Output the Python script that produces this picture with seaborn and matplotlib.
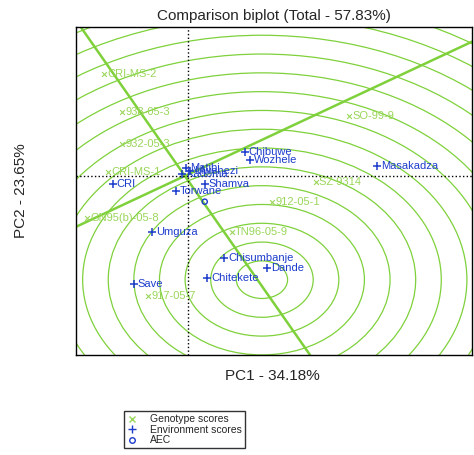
import matplotlib
matplotlib.use("Agg")
import matplotlib.pyplot as plt
import seaborn as sns
import numpy as np
from matplotlib.patches import Ellipse
from matplotlib.lines import Line2D

sns.set_style("white")
plt.rcParams['font.family'] = ['Liberation Sans', 'DejaVu Sans']

gen_names = ["CRI-MS-2", "938-05-3", "932-05-3", "CRI-MS-1", "SO-99-9", "SZ 9314",
             "912-05-1", "GN95(b)-05-8", "TN96-05-9", "917-05-7"]
gen_x = [-2.1, -1.65, -1.65, -2.0, 4.02, 3.2, 2.1, -2.52, 1.1, -1.0]
gen_y = [2.55, 1.58, 0.78, 0.08, 1.5, -0.15, -0.65, -1.05, -1.4, -3.02]

env_names = ["Chibuwe", "Wozhele", "Masakadza", "Matibi", "Mwenezi", "Kadoma", "CRI",
             "Shamva", "Torwane", "Umguza", "Chisumbanje", "Dande", "Chitekete", "Save"]
env_x = [1.42, 1.55, 4.72, -0.05, 0.05, -0.15, -1.88, 0.42, -0.3, -0.9, 0.9, 1.98, 0.48, -1.35]
env_y = [0.6, 0.38, 0.25, 0.18, 0.12, 0.05, -0.2, -0.2, -0.38, -1.4, -2.05, -2.3, -2.55, -2.7]

aec_x, aec_y = 0.42, -0.65
center = (1.85, -2.6)
x_lim = (-2.8, 7.1)
y_lim = (3.72, -4.48)

fig = plt.figure(figsize=(4.74, 4.55), dpi=100)
ax = fig.add_axes([0.160, 0.220, 0.836, 0.721])
green = "#7fd13b"
lgreen = "#9ad65a"
blue = "#1c3ccc"

for k in range(1, 16):
    ax.add_patch(Ellipse(center, width=2*0.64*k, height=2*0.47*k, fill=False,
                         color=green, lw=0.9, zorder=1))

ax.plot([-2.68, 3.05], [3.72, -4.48], color=green, lw=1.8, zorder=2)
ax.plot([-2.8, 7.1], [-1.28, 3.35], color=green, lw=1.8, zorder=2)
ax.axvline(0, color="black", ls=":", lw=1, zorder=2)
ax.axhline(0, color="black", ls=":", lw=1, zorder=2)

sns.scatterplot(x=gen_x, y=gen_y, marker="x", color=lgreen, s=12, linewidth=0.8, ax=ax, zorder=3)
for n, x, y in zip(gen_names, gen_x, gen_y):
    ax.text(x + 0.08, y, n, color=lgreen, fontsize=8, va="center", zorder=3)
sns.scatterplot(x=env_x, y=env_y, marker="+", color=blue, s=40, linewidth=1.1, ax=ax, zorder=4)
for n, x, y in zip(env_names, env_x, env_y):
    ax.text(x + 0.1, y, n, color=blue, fontsize=8, va="center", zorder=4)
ax.scatter([aec_x], [aec_y], marker="o", facecolors="none", edgecolors=blue, s=14, zorder=4)

ax.set_xlim(*x_lim)
ax.set_ylim(y_lim[1], y_lim[0])
ax.set_xticks([]); ax.set_yticks([])
for s in ax.spines.values():
    s.set_color("black"); s.set_linewidth(1)
ax.set_title("Comparison biplot (Total - 57.83%)", fontsize=11, pad=5)
fig.text(0.575, 0.165, "PC1 - 34.18%", ha="center", fontsize=11)
fig.text(0.03, 0.58, "PC2 - 23.65%", rotation=90, va="center", fontsize=11)

handles = [Line2D([], [], marker="x", ls="", color=lgreen, ms=4),
           Line2D([], [], marker="+", ls="", color=blue, ms=6),
           Line2D([], [], marker="o", ls="", mfc="none", mec=blue, ms=4)]
fig.legend(handles, ["Genotype scores", "Environment scores", "AEC"],
           loc="lower left", bbox_to_anchor=(0.25, 0.003), fontsize=7.5,
           frameon=True, fancybox=False, edgecolor="black", handlelength=1,
           labelspacing=0.05, borderpad=0.3, handletextpad=1.2)
fig.savefig("out.png", dpi=100)
